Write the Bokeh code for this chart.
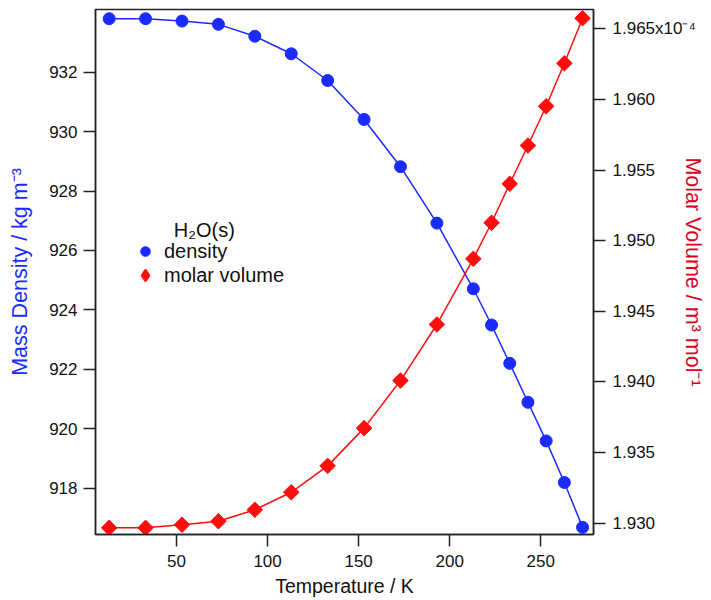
import numpy as np
from bokeh.plotting import figure
from bokeh.models import (Range1d, LinearAxis, FixedTicker, Legend, LegendItem,
                          Label, CustomJSTickFormatter)
from bokeh.embed import file_html
from bokeh.resources import INLINE

# ---- data ----
temperature = [13, 33, 53, 73, 93, 113, 133, 153, 173, 193, 213, 223, 233, 243, 253, 263, 273]
density = [933.80, 933.80, 933.72, 933.61, 933.21, 932.62, 931.72, 930.41, 928.82,
           926.92, 924.71, 923.49, 922.20, 920.89, 919.59, 918.19, 916.68]
# molar volume in units of 1e-4 m^3 mol^-1
molar_volume = [1.92967, 1.92967, 1.92989, 1.93014, 1.93095, 1.93219, 1.93406, 1.93673,
                1.94010, 1.94407, 1.94872, 1.95127, 1.95403, 1.95674, 1.95952, 1.96256, 1.96575]
x_ticks = [50, 100, 150, 200, 250]
density_ticks = [918, 920, 922, 924, 926, 928, 930, 932]
mv_ticks = [1.930, 1.935, 1.940, 1.945, 1.950, 1.955, 1.960, 1.965]

BLUE = "#1a2bff"
RED = "#ff0d0d"
RED_LABEL = "#e0001a"
FONT = "Liberation Sans"

p = figure(width=711, height=600,
           x_range=Range1d(5.5, 279.0), y_range=Range1d(916.44, 934.11),
           output_backend="svg", toolbar_location=None,
           min_border_left=95, min_border_right=118, min_border_top=9, min_border_bottom=66)
p.extra_y_ranges = {"mv": Range1d(1.9292, 1.96637)}

p.xgrid.visible = False
p.ygrid.visible = False
p.outline_line_color = "#222222"
p.outline_line_width = 1.5
p.background_fill_color = "white"
p.border_fill_color = "white"


def style_axis(ax, label_size):
    ax.major_tick_out = 12
    ax.major_tick_in = 0
    ax.minor_tick_out = 0
    ax.minor_tick_in = 0
    ax.major_tick_line_width = 1.5
    ax.major_tick_line_color = "#222222"
    ax.axis_line_width = 1.5
    ax.axis_line_color = "#222222"
    ax.major_label_text_font = FONT
    ax.major_label_text_font_size = "17px"
    ax.major_label_text_color = "#111111"
    ax.axis_label_text_font = FONT
    ax.axis_label_text_font_style = "normal"
    ax.axis_label_text_font_size = label_size


# x axis
xa = p.xaxis[0]
xa.ticker = FixedTicker(ticks=x_ticks)
xa.axis_label = "Temperature / K"
xa.axis_label_text_color = "#111111"
style_axis(xa, "19.5px")
xa.major_label_standoff = 8
xa.axis_label_standoff = 5

# left axis
ya = p.yaxis[0]
ya.ticker = FixedTicker(ticks=density_ticks)
ya.axis_label = "Mass Density / kg m\u207b\u00b3"
ya.axis_label_text_color = BLUE
style_axis(ya, "21.5px")
ya.major_label_standoff = 6
ya.axis_label_standoff = 14

# right axis
ra = LinearAxis(y_range_name="mv", ticker=FixedTicker(ticks=mv_ticks),
                axis_label="Molar Volume / m\u00b3 mol\u207b\u00b9")
ra.formatter = CustomJSTickFormatter(
    code="var s = tick.toFixed(3); if (Math.abs(tick - 1.965) < 1e-9) { s += 'x10\u207b\u2074'; } return s;")
style_axis(ra, "21.5px")
ra.axis_label_text_color = RED_LABEL
ra.major_label_standoff = 7
ra.axis_label_standoff = -18
p.add_layout(ra, "right")

# data
p.line(temperature, density, line_color=BLUE, line_width=1.5)
r_den = p.scatter(temperature, density, marker="circle", size=12,
                  fill_color=BLUE, line_color=BLUE)
p.line(temperature, molar_volume, y_range_name="mv", line_color=RED, line_width=1.5)
p.scatter(temperature, molar_volume, y_range_name="mv", marker="square",
          angle=np.pi / 4, size=11, fill_color=RED, line_color=RED)

# legend key for the diamonds (legend keys are drawn unrotated, so use a diamond marker)
r_mv_key = p.scatter([np.nan], [np.nan], y_range_name="mv", marker="diamond", size=11,
                     fill_color=RED, line_color=RED, line_width=3, line_join="round")

legend = Legend(items=[LegendItem(label="density", renderers=[r_den]),
                       LegendItem(label="molar volume", renderers=[r_mv_key])],
                location=(36, 247),
                label_text_font=FONT, label_text_font_size="20px",
                label_text_color="#111111",
                glyph_width=28, glyph_height=24, label_height=20,
                spacing=0, padding=0, margin=0, label_standoff=5,
                border_line_alpha=0, background_fill_alpha=0)
p.add_layout(legend)

p.add_layout(Label(x=48.5, y=926.68, text="H\u2082O(s)", text_baseline="middle",
                   text_font=FONT, text_font_size="20px", text_color="#111111"))

open("out.html", "w").write(file_html(p, INLINE))
